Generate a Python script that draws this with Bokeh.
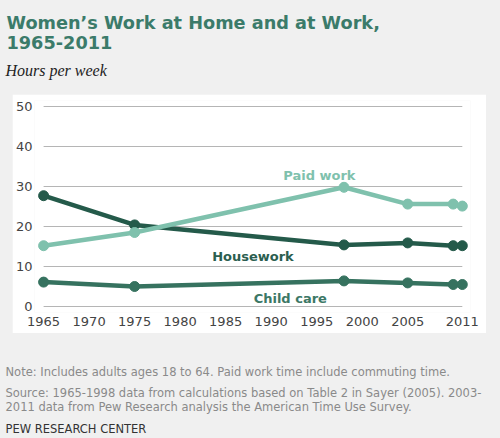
"""
Women's work at home and at work, 1965-2011 (Pew chart) in Bokeh
"""

from bokeh.plotting import figure
from bokeh.layouts import column, row
from bokeh.models import Range1d, FixedTicker, Spacer
from bokeh.core.properties import value
from bokeh.embed import file_html
from bokeh.resources import INLINE

# Data (hours per week)
years = [1965, 1975, 1998, 2005, 2010, 2011]
paid_work = [15.2, 18.5, 29.8, 25.6, 25.6, 25.1]
housework = [27.7, 20.4, 15.4, 15.9, 15.2, 15.2]
child_care = [6.1, 5.0, 6.4, 5.9, 5.5, 5.5]

x_ticks = [1965, 1970, 1975, 1980, 1985, 1990, 1995, 2000, 2005, 2011]
y_ticks = [0, 10, 20, 30, 40, 50]

title_lines = ["Women\u2019s Work at Home and at Work,", "1965-2011"]
subtitle = "Hours per week"
note = "Note: Includes adults ages 18 to 64. Paid work time include commuting time."
source_lines = ["Source: 1965-1998 data from calculations based on Table 2 in Sayer (2005). 2003-",
                "2011 data from Pew Research analysis the American Time Use Survey."]
credit = "PEW RESEARCH CENTER"

paid_color = "#7fc1ad"
house_color = "#245a4a"
child_color = "#36725f"
bg = "#f0f0f0"
font = "DejaVu Sans"


def text_panel(w, h):
    # plain figure used as a canvas for header / footer text, pixel coordinates
    f = figure(width=w, height=h, output_backend="svg", toolbar_location=None,
               title=None, x_axis_location=None, y_axis_location=None,
               x_range=Range1d(0, w), y_range=Range1d(h, 0), min_border=0)
    f.border_fill_color = bg
    f.background_fill_color = bg
    f.outline_line_color = None
    f.xgrid.visible = False
    f.ygrid.visible = False
    return f


def put_text(f, txt, x, y, size, color, style="normal", fnt=font, base="alphabetic"):
    f.text(x=[x], y=[y], text=[txt], text_font=value(fnt), text_font_size=value(size),
           text_font_style=style, text_color=color, text_align="left", text_baseline=base)


# header
head = text_panel(500, 94)
put_text(head, title_lines[0], 6, 22, "17.7px", "#3b7b6a", "bold")
put_text(head, title_lines[1], 6, 42, "17.7px", "#3b7b6a", "bold")
put_text(head, subtitle, 5, 70, "16px", "#222222", "italic", "Liberation Serif")

# main chart (white panel)
p = figure(width=474, height=239, output_backend="svg", toolbar_location=None,
           title=None, x_range=Range1d(1964.0, 2011.9), y_range=Range1d(-1.5, 51.5),
           min_border_left=22, min_border_right=16, min_border_top=6,
           min_border_bottom=21)
p.border_fill_color = "white"
p.background_fill_color = "white"
p.outline_line_color = None
p.xgrid.visible = False
p.ygrid.visible = False

# grid lines only over the span of the data
p.segment(x0=[x_ticks[0]] * len(y_ticks), x1=[x_ticks[-1]] * len(y_ticks),
          y0=y_ticks, y1=y_ticks, line_color="#b5b5b5", line_width=1)

for ax in (p.xaxis, p.yaxis):
    ax.axis_line_color = None
    ax.major_tick_line_color = None
    ax.minor_tick_line_color = None
    ax.major_tick_out = 0
    ax.major_tick_in = 0
    ax.major_label_text_font = font
    ax.major_label_text_font_size = "13px"
    ax.major_label_text_color = "#444444"
p.xaxis.ticker = FixedTicker(ticks=x_ticks)
p.yaxis.ticker = FixedTicker(ticks=y_ticks)
p.xaxis.major_label_standoff = 4
p.yaxis.major_label_standoff = 2

for ys, c in ((child_care, child_color), (housework, house_color), (paid_work, paid_color)):
    p.line(years, ys, line_color=c, line_width=4.5)
    p.scatter(years, ys, size=10, fill_color=c, line_color=c)

# series labels
for txt, x, y, c in (("Paid work", 1995.3, 32.7, paid_color),
                     ("Housework", 1988.0, 12.5, "#2b5e4f"),
                     ("Child care", 1992.1, 2.0, "#3c7866")):
    p.text(x=[x], y=[y], text=[txt], text_font=value(font), text_font_size=value("13px"),
           text_font_style="bold", text_color=c, text_align="center", text_baseline="middle")

# footer
foot = text_panel(500, 105)
put_text(foot, note, 5, 38, "11.5px", "#8a8a8a", base="middle")
put_text(foot, source_lines[0], 5, 59, "11.5px", "#8a8a8a", base="middle")
put_text(foot, source_lines[1], 5, 73, "11.5px", "#8a8a8a", base="middle")
put_text(foot, credit, 5, 95, "11.5px", "#333333", base="middle")

layout = column(head, row(Spacer(width=12, height=239), p, Spacer(width=14, height=239)), foot)

html = file_html(layout, INLINE)
html = html.replace("<body>", '<body style="background-color:%s">' % bg)
open("out.html", "w").write(html)
